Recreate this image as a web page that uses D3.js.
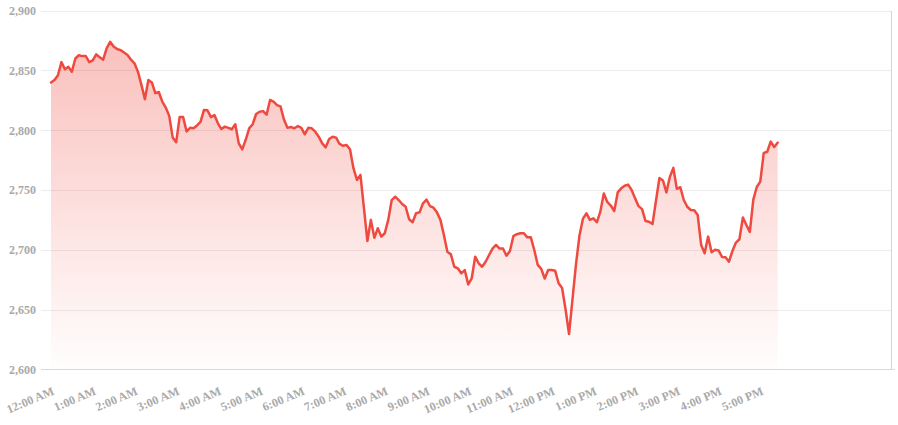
<!DOCTYPE html>
<html>
<head>
<meta charset="utf-8">
<script src="https://cdn.jsdelivr.net/npm/d3@7/dist/d3.min.js"></script>
<style>
  html, body { margin: 0; padding: 0; background: #fff; }
  svg { display: block; }
</style>
</head>
<body>
<svg id="chart" width="898" height="425"></svg>
<script>
// ---- data ----
const startLabel = "12:00 AM";
const stepMinutes = 5;
const values = [
  2840, 2842, 2846, 2857, 2851, 2853, 2849, 2860, 2862.7, 2862,
  2862, 2857, 2858.5, 2863.5, 2861, 2859, 2868.5, 2874, 2870, 2868,
  2867, 2865, 2863, 2859, 2856, 2849, 2838, 2826, 2842, 2840,
  2831, 2832, 2824, 2819, 2812, 2794, 2790, 2811, 2811, 2799,
  2802, 2801.6, 2804, 2807, 2817, 2816.7, 2811, 2812.7, 2805.8, 2801,
  2803, 2802, 2800.8, 2805, 2789, 2784, 2792, 2801.6, 2805, 2813.6,
  2815.5, 2816, 2813, 2825.3, 2824, 2821, 2820, 2809, 2802, 2802.7,
  2801.6, 2803.5, 2802, 2796.6, 2802, 2801.6, 2798.8, 2794.6, 2789, 2785.7,
  2792.7, 2794.6, 2793.8, 2788.5, 2787, 2787.6, 2784, 2768, 2758.4, 2762.6,
  2735, 2707.3, 2725, 2710, 2718, 2711, 2713.8, 2725, 2741.6, 2744.4,
  2741.6, 2738.3, 2736, 2725.5, 2723, 2730.5, 2731.3, 2738.9, 2741.9, 2736.6,
  2735.2, 2731.3, 2725, 2712.4, 2698.4, 2696.2, 2685.8, 2684.5, 2680.3, 2683,
  2671, 2676, 2694.2, 2688.7, 2685.8, 2690, 2695.6, 2701, 2704, 2701,
  2701, 2695, 2699, 2711.5, 2713, 2713.8, 2713.8, 2710.4, 2710.4, 2699.8,
  2687.3, 2684, 2676, 2683, 2683, 2682.5, 2672, 2668, 2650, 2629.5,
  2659, 2688, 2712, 2726, 2730.5, 2725, 2726.3, 2723, 2731.9, 2747,
  2740, 2737, 2732.4, 2748, 2751.4, 2753.6, 2754.5, 2750, 2743, 2736.5,
  2734, 2724, 2723.5, 2721.5, 2741, 2760, 2758, 2748, 2761, 2768.5,
  2751, 2752.3, 2741.6, 2736, 2733.3, 2733, 2729, 2704, 2697, 2711,
  2698, 2700, 2699.5, 2694, 2693.7, 2690, 2699, 2706, 2708.8, 2727,
  2720.7, 2715, 2742, 2752.5, 2757, 2781, 2782, 2790.5, 2786, 2789.6
];
const yTicks = [2600, 2650, 2700, 2750, 2800, 2850, 2900];
const xTickLabels = ["12:00 AM", "1:00 AM", "2:00 AM", "3:00 AM", "4:00 AM", "5:00 AM",
  "6:00 AM", "7:00 AM", "8:00 AM", "9:00 AM", "10:00 AM", "11:00 AM",
  "12:00 PM", "1:00 PM", "2:00 PM", "3:00 PM", "4:00 PM", "5:00 PM"];

// ---- layout ----
const W = 898, H = 425;
const plot = { left: 41, right: 891, top: 10.7, bottom: 369.3 };
const lineColor = "#ee4a40";

const data = values.map((v, i) => ({ m: i * stepMinutes, v }));

// minutes since midnight → x; domain padded as in reference
const x = d3.scaleLinear().domain([-14.4, 1208]).range([plot.left, plot.right]);
const y = d3.scaleLinear().domain([2600, 2900]).range([plot.bottom, plot.top]);

const svg = d3.select("#chart");

const defs = svg.append("defs");
const grad = defs.append("linearGradient")
  .attr("id", "fillGrad")
  .attr("gradientUnits", "userSpaceOnUse")
  .attr("x1", 0).attr("x2", 0)
  .attr("y1", plot.top).attr("y2", plot.bottom);
grad.append("stop").attr("offset", "0%").attr("stop-color", lineColor).attr("stop-opacity", 0.38);
grad.append("stop").attr("offset", "55%").attr("stop-color", lineColor).attr("stop-opacity", 0.17);
grad.append("stop").attr("offset", "100%").attr("stop-color", lineColor).attr("stop-opacity", 0.01);

// grid lines
const gGrid = svg.append("g");
gGrid.selectAll("line.grid")
  .data(yTicks.filter(t => t !== 2600))
  .join("line")
  .attr("class", "grid")
  .attr("x1", plot.left).attr("x2", plot.right)
  .attr("y1", d => Math.round(y(d)) + 0.5).attr("y2", d => Math.round(y(d)) + 0.5)
  .attr("stroke", "#ececec").attr("stroke-width", 1);

// right axis line
svg.append("line")
  .attr("x1", Math.round(plot.right) + 0.5).attr("x2", Math.round(plot.right) + 0.5)
  .attr("y1", Math.round(plot.top)).attr("y2", Math.round(plot.bottom) + 1)
  .attr("stroke", "#d4d4d4").attr("stroke-width", 1);

// area
const area = d3.area()
  .x(d => x(d.m))
  .y0(y(2600))
  .y1(d => y(d.v));
svg.append("path")
  .datum(data)
  .attr("d", area)
  .attr("fill", "url(#fillGrad)");

// bottom axis line
svg.append("line")
  .attr("x1", plot.left).attr("x2", plot.right + 4)
  .attr("y1", Math.round(y(2600)) + 0.5).attr("y2", Math.round(y(2600)) + 0.5)
  .attr("stroke", "#d9d9d9").attr("stroke-width", 1);

// line
const line = d3.line()
  .x(d => x(d.m))
  .y(d => y(d.v));
svg.append("path")
  .datum(data)
  .attr("d", line)
  .attr("fill", "none")
  .attr("stroke", lineColor)
  .attr("stroke-width", 2.5)
  .attr("stroke-linejoin", "round")
  .attr("stroke-linecap", "round");

// y axis labels
const fmt = d3.format(",");
const yAxis = d3.axisLeft(y).tickValues(yTicks).tickFormat(fmt).tickSize(0).tickPadding(0);
const gy = svg.append("g").attr("transform", `translate(36,0)`).call(yAxis);
gy.select(".domain").remove();
gy.selectAll("text")
  .attr("fill", "#a9a9a9")
  .style("font-family", "'Liberation Serif', 'Times New Roman', serif")
  .style("font-weight", "bold")
  .style("font-size", "12px");

// x axis labels
const gx = svg.append("g");
gx.selectAll("text")
  .data(xTickLabels)
  .join("text")
  .attr("transform", (d, i) => `translate(${x(i * 60) + 4},394) rotate(-23)`)
  .attr("text-anchor", "end")
  .attr("fill", "#a9a9a9")
  .style("font-family", "'Liberation Serif', 'Times New Roman', serif")
  .style("font-weight", "bold")
  .style("font-size", "12px")
  .text(d => d);
</script>
</body>
</html>
